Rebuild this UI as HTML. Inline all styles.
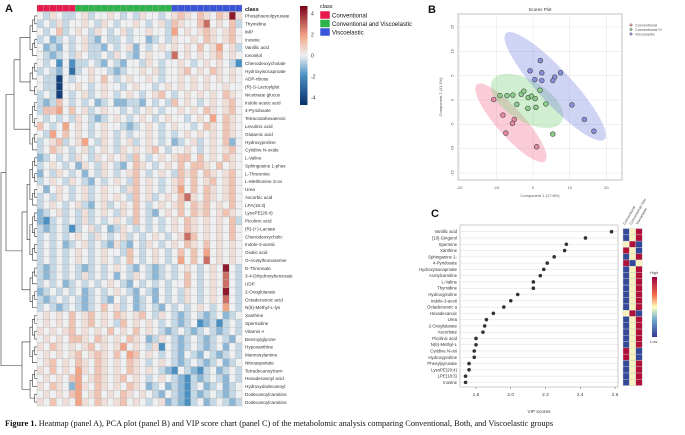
<!DOCTYPE html>
<html><head><meta charset="utf-8"><style>
html,body{margin:0;padding:0;background:#fff;}
svg{display:block;font-family:"Liberation Sans",sans-serif;}
</style></head><body>
<svg id="fig" width="685" height="435" viewBox="0 0 685 435" xmlns="http://www.w3.org/2000/svg">
<defs>
<linearGradient id="hmgrad" x1="0" y1="0" x2="0" y2="1">
<stop offset="0" stop-color="#7a0019"/><stop offset="0.3" stop-color="#f2a487"/><stop offset="0.5" stop-color="#eef0f2"/><stop offset="0.7" stop-color="#4a90c2"/><stop offset="1" stop-color="#08306b"/>
</linearGradient>
<linearGradient id="vipgrad" x1="0" y1="0" x2="0" y2="1">
<stop offset="0" stop-color="#9e0142"/><stop offset="0.3" stop-color="#f46d43"/><stop offset="0.5" stop-color="#ffffbf"/><stop offset="0.7" stop-color="#74add1"/><stop offset="1" stop-color="#313695"/>
</linearGradient>
</defs>
<g id="panelA"></g>
<g id="panelB"></g>
<g id="panelC"></g>
<text x="5" y="426" font-family="Liberation Serif,serif" font-size="8.3" fill="#111"><tspan font-weight="bold">Figure 1.</tspan> Heatmap (panel A), PCA plot (panel B) and VIP score chart (panel C) of the metabolomic analysis comparing Conventional, Both, and Viscoelastic groups</text>
</svg>
<script>
// ---------- Heatmap data ----------
const hmRows = ["Phosphoenolpyruvate","Thymidine","IMP","Inosine","Vanillic acid","Ionositol","Chenodeoxycholate","Hydroxyisocaproate","ADP-ribose","(R)-S-Lactoylglut","Nicotinate glucos","Indole acetic acid","4-Pyridoxate","Tetracosahexaenoic","Levulinic acid","Glutamic acid","Hydroxyproline","Cytidine N-oxide","L-Valine","Sphingosine 1-phos","L-Threonine","L-Methionine S-ox","Urea","Ascorbic acid","LPA(18:3)","LysoPE(20:4)","Picolinic acid","(R)-(+)-Lactate","Chenodeoxycholic","Indole-3-acetic","Oxalic acid","O-Acetylhomoserine","D-Threonate","3-4-Dihydroxybenzoate","UDP","2-Oxoglutarate","Octadecanoic acid","N(6)-Methyl-L-lys","Xanthine","Spermidine","Vitamin A","Benzoylglycine","Hypoxanthine","Mannosylamine","Nitroaspartate","Tetradecanoylcarn","Hexadecanoyl acid","Hydroxydodecanoyl","Dodecanoylcarnitine","Dodecanoylcarnitine"];
const hmClassCounts = [6,15,11];
const hmLevels = {A:-4.5,B:-3,C:-2,D:-1.2,E:-0.5,F:0,G:0.5,H:1.2,I:2,J:3,K:4.5};
const hmValues = [
"FEGFEEFGEFFGFEFEGFFEFGHGFHGFHGKG","EFEGEFFGFEGFEFFGFEFGEHGFFHJFGFHE","FEFHEFGFEGFEFGEFFGFFEIFGFGHGFGHF","EFDEFEFGEDFEEFEFFDEFEGFFGFHGFGHF",
"FDEDFEFGEEDFEFGDFEFGFGFGFHFGIFGE","FEDEFEGFEEFEGFEDFGFFEJFGFGFGHFGF","FEFCFCEEFEDFEDFFEGFEFFGFEFGFGFEC","EFEDFBEFGFFEDEFFGFGEFFGHFGFHGFGF",
"FEEAFEFFGFHFEFGFFGFEFFGFGFGFGFGF","FEEAFFGFEFGFFEFGFFEFGFGFGFGFFGFF","EFEAFEFGEFGFEFGFEFGHFEFGFGFGFHGF","EDEHFEFEFDEFDDEEDFEFEHFGFEFGFGHF",
"EHHIFHFGEFGFFEFEFGFEFFGFGFHGFGHF","FEFEFEGFEDEFGFEFGFEFGFFEFGFIFHGF","HFEFIFGFEFGFFEDEFGFEFGFFEFHGFHGF","FEIFHFGFEFGFEFEFFGFEFEFGFGFGFHGF",
"EFGHEFGIFEGFEFGEFGFEFDEFGEFGFHDF","EFHGFEFGEFGFEGFGFGHFEFFGFEFGFGHF","DEFEFEGFEGFGFGEHFEFGFGHHFHFGFHGF","EFGFEFDGFEGFEDFHGFEFGFHFHHGFHFGF",
"DFEGFEFDFEGFEFGHFEFGFEHGHFHGFGHF","EFGFEGFEDFEFGFEHFGFEFGHFHFGHFGHF","FDFGFEFGEFGFFEGHFGFEFGIFHFHGFGHF","EFEGFEFGEFGFGFEHFGEFGFHJGFHGFGHF",
"EFGFEFGEDFGEFGFHFEFGFGHFHGHFGFHF","DEFGEFEGEFGFEGFHFEDFGFHFHGHFGHGF","DCEFEFEGEFEFGFEHFEFEFGFHGFGFGFHE","EDEFECEFGEFDEGFEFEFEFGFHGFGFGFHF",
"EFEFEFGFEGFEFGEFEFGFEFGJHFGFGFHF","EFEFDEFGEFEDGEDFEGFEFGFHGFHFGFGF","EFEFEFGFEFGFFEHFEFGFEFHFHFIFGFGF","EFEFEFGFEFGFEFHFEFGFEFIFHFJFGFGF",
"EDEFEFEDEFEFGFEDFEDEFEFGFEFGFKFE","EDEFEFEGEFEFDFEGFEDEFEFHFEFGFJFE","EFEFDEFEFEFGFEDFEFEFEFFHFEFGFJFE","DEFEFEFDEFEFGFEDFEDFEFEGFEFGFKFE",
"EDEFEFEDEFEDFEFDEFDFEFEGFEFGFJFE","EFEDEFEDEFHFGEFDEFEDFEFEFGFEFIFE","FGFGFHFGHFGFHGFGHFEGFEDEFEDEFDEF","FGFGFHFGHFGFEHFGFGFEFEDEFCDECEFE",
"GFGFGHFGFGFHFGFHFGFEDEFEDEFEDEFE","FGFGFHHGFHGFGFHGFDEGFEDEFEDEFEDF","GFHGFGFGHFGFGIFGFEGCFEDEFEDEFDFE","FGFGFGHFGHGFHFIHFGFEFEDFEDFEDEFE",
"FGHFGFHGFHGFGFHGFEFGFEDEFEDEFDEF","GFHFGFIGFHGFGFHGFGFEDCFEDCEFDEFE","FGFGFHIFGHGFGHFGFEFGFEDCEDEFEDFE","GFHGFDIGFHGFGFHGFDEFDEDCEFDEFDEF",
"FGFGFHIFGHFGFHGFGFEDFEDCEDEFEDEF","GFHFGFIGFHGFGHFGFEFGDEDCEFDEFEDE"];
const hmClassNames = ["Conventional","Conventional and Viscoelastic","Viscoelastic"];
const hmClassColors = ["#e8194d","#2db34a","#3a55d8"];
const hmBarTicks = [4,2,0,-2,-4];

// ---------- PCA data ----------
const pcaGroups = ["Conventional","Conventional and Viscoelastic","Viscoelastic"];
const pcaRedX = [-10.7,-8.2,-5.1,-5.6,-7.4,1.0];
const pcaRedY = [0.1,-3.1,-4.0,-4.8,-6.8,-9.6];
const pcaGreenX = [-9.0,-7.1,-5.5,-3.2,-2.5,-4.4,-1.3,-0.4,0.6,-1.4,0.8,3.5,1.9,5.4];
const pcaGreenY = [0.9,0.9,1.0,1.2,1.8,-0.9,0.5,0.8,0.3,-1.7,-1.5,-0.8,2.0,-7.0];
const pcaBlueX = [2.0,-0.8,2.4,5.9,7.5,0.5,2.4,5.4,10.6,14.0,16.6];
const pcaBlueY = [8.1,6.0,5.6,4.7,5.6,4.2,4.0,4.0,-1.0,-4.0,-6.4];
const pcaXTicks = [-20,-10,0,10,20];
const pcaYTicks = [15,10,5,0,-5,-10,-15];

// ---------- VIP data ----------
const vipFeatures = ["Vanillic acid","[10]-Gingerol","Spermine","Xanthine","Sphinganine 1-","4-Pyridoxate","Hydroxyisocaproate","Acetylcarnitine","L-Valine","Thymidine","Hydroxyproline","Indole-3-aceti","Octadecanoic a","Hexadecanoic","Urea","2-Oxoglutarate","Ascorbate","Picolinic acid","N(6)-Methyl-L","Cytidine N-oxi","Hydroxyproline","Phenylpyruvate","LysoPE(20:4)","LPE(18:3)","Inosine"];
const vipScores = [2.58,2.43,2.32,2.31,2.25,2.21,2.19,2.17,2.13,2.13,2.04,2.00,1.96,1.90,1.86,1.85,1.84,1.80,1.80,1.79,1.79,1.76,1.76,1.74,1.74];
const vipConv = [-1,-1,0,1,-1,1,-1,-1,-1,-1,-1,-1,-1,0,-1,-1,-1,-1,-1,1,1,-1,-1,-1,-1];
const vipBoth = [0,0,1,0,0,-1,0,0,0,0,0,0,0,1,0,0,0,0,0,0,0,0,0,0,0];
const vipVisc = [1,1,-1,-1,1,0,1,1,1,1,1,1,1,-1,1,1,1,1,1,-1,-1,1,1,1,1];
const vipXTicks = [1.8,2.0,2.2,2.4,2.6];

const NS="http://www.w3.org/2000/svg";
function mk(parent,tag,attrs,text){const e=document.createElementNS(NS,tag);for(const k in attrs)e.setAttribute(k,attrs[k]);if(text!==undefined)e.textContent=text;parent.appendChild(e);return e;}

// ===== Panel A =====
(function(){
const g=document.getElementById('panelA');
const x0=37,x1=242,yTop=12,yBot=406;
const nC=hmClassCounts.reduce((a,b)=>a+b,0);
const cw=(x1-x0)/nC, rh=(yBot-yTop)/hmRows.length;
function col(v){
  const stops=[[-5,[8,48,107]],[-2,[74,144,194]],[0,[238,240,242]],[2,[242,164,135]],[5,[122,0,25]]];
  v=Math.max(-5,Math.min(5,v));
  for(let i=0;i<stops.length-1;i++){const a=stops[i],b=stops[i+1];if(v<=b[0]){const t=(v-a[0])/(b[0]-a[0]);const c=a[1].map((q,j)=>Math.round(q+(b[1][j]-q)*t));return `rgb(${c})`;}}
}
let t=mk(g,'text',{x:5,y:12,'font-size':11,'font-weight':'bold',fill:'#111'},'A');

// class bar
let ci=0;
hmClassCounts.forEach((n,k)=>{for(let i=0;i<n;i++){const r=mk(g,'rect',{x:x0+(ci)*cw,y:5,width:cw,height:6.5,fill:hmClassColors[k],stroke:'#aaa','stroke-width':0.3});
ci++;}});
t=mk(g,'text',{x:x1+3,y:11,'font-size':5.5,'font-weight':'bold',fill:'#111'},'class');

hmValues.forEach((row,ri)=>{
  for(let c=0;c<nC;c++){
    const ch=row[c]||'F';
    const r=mk(g,'rect',{x:x0+c*cw,y:yTop+ri*rh,width:cw,height:rh,fill:col(hmLevels[ch]),stroke:'#b8b8b8','stroke-width':0.35});
    
    
  }
  const l=mk(g,'text',{x:x1+3,y:yTop+ri*rh+rh*0.72,'font-size':4.6,fill:'#333'},hmRows[ri]);
  
  
});
// dendrogram
const dg=mk(g,'g',{stroke:'#333','stroke-width':0.6,fill:'none'});

const clusters=[[0,5],[6,10],[11,17],[18,31],[32,37],[38,44],[45,49]];
function build(lo,hi,depth,maxd){ // returns {y,x}
  if(lo===hi) return {y:yTop+lo*rh+rh/2,x:x0};
  const mid=Math.floor((lo+hi)/2);
  const a=build(lo,mid,depth+1,maxd), b=build(mid+1,hi,depth+1,maxd);
  const x=Math.min(a.x,b.x)-2.2-(hi-lo)*0.05;
  mk(dg,'path',{d:`M${a.x},${a.y}H${x}V${b.y}H${b.x}`});
  return {y:(a.y+b.y)/2,x:x};
}
const tops=clusters.map(c=>build(c[0],c[1],0));
function join(list,xs){
  // join sequential pairs with given x positions
  const a=list[0],b=list[1];
  mk(dg,'path',{d:`M${a.x},${a.y}H${xs}V${b.y}H${b.x}`});
  return {x:xs,y:(a.y+b.y)/2};
}
const j01=join([tops[0],tops[1]],20), j012=join([j01,tops[2]],14);
const j34=join([tops[3],tops[4]],22), jU=join([j012,j34],6);
const j56=join([tops[5],tops[6]],22);
join([jU,j56],1);
// colorbar
const cb=mk(g,'rect',{x:300,y:6,width:7.5,height:99,fill:'url(#hmgrad)'});

hmBarTicks.forEach(v=>{const y=55.5-v*10.5;const tx=mk(g,'text',{x:311,y:y+2,'font-size':5,fill:'#333'},String(v).replace('-','-'));
});
// legend
t=mk(g,'text',{x:320,y:8,'font-size':5.5,fill:'#111'},'class');

hmClassNames.forEach((n,k)=>{
  const r=mk(g,'rect',{x:320,y:11+k*8.5,width:10,height:8,fill:hmClassColors[k],stroke:'#fff','stroke-width':0.5});
  
  const tt=mk(g,'text',{x:332,y:17.5+k*8.5,'font-size':6,fill:'#111'},n);
  
});
})();

// ===== Panel B =====
(function(){
const g=document.getElementById('panelB');
const L=458,R=622,T=14,B=180;
const X=v=>533+v*3.67, Y=v=>100-v*4.87;
let t=mk(g,'text',{x:428,y:13,'font-size':11,'font-weight':'bold',fill:'#111'},'B');

t=mk(g,'text',{x:(L+R)/2,y:11,'font-size':4.5,'text-anchor':'middle',fill:'#333'},'Scores Plot');

const bg=mk(g,'rect',{x:L,y:T,width:R-L,height:B-T,fill:'#fff',stroke:'#999','stroke-width':0.6});

pcaXTicks.forEach(v=>{mk(g,'line',{x1:X(v),x2:X(v),y1:T,y2:B,stroke:'#e2e2e2','stroke-width':0.5});
 const tx=mk(g,'text',{x:X(v),y:B+9,'font-size':4,'text-anchor':'middle',fill:'#555'},v);
 });
pcaYTicks.forEach(v=>{mk(g,'line',{x1:L,x2:R,y1:Y(v),y2:Y(v),stroke:'#e2e2e2','stroke-width':0.5});
 const tx=mk(g,'text',{x:L-6,y:Y(v)+1.5,'font-size':4,'text-anchor':'middle',fill:'#555',transform:`rotate(-90 ${L-6} ${Y(v)})`},v);
 });
t=mk(g,'text',{x:(L+R)/2,y:B+17,'font-size':4,'text-anchor':'middle',fill:'#555'},'Component 1 (17.8%)');

t=mk(g,'text',{x:442,y:(T+B)/2,'font-size':4,'text-anchor':'middle',fill:'#555',transform:`rotate(-90 442 ${(T+B)/2})`},'Component 2 (11.1%)');

const groups=[[pcaRedX,pcaRedY,'rgba(240,110,140,0.35)','#e58aa0'],[pcaGreenX,pcaGreenY,'rgba(120,210,120,0.35)','#8ccf8c'],[pcaBlueX,pcaBlueY,'rgba(110,120,220,0.32)','#8890dd']];
groups.forEach((gr,k)=>{
  const px=gr[0].map(X), py=gr[1].map(Y), n=px.length;
  const mx=px.reduce((a,b)=>a+b)/n, my=py.reduce((a,b)=>a+b)/n;
  let sxx=0,syy=0,sxy=0;for(let i=0;i<n;i++){sxx+=(px[i]-mx)**2;syy+=(py[i]-my)**2;sxy+=(px[i]-mx)*(py[i]-my);}
  sxx/=(n-1);syy/=(n-1);sxy/=(n-1);
  const tr=sxx+syy, det=sxx*syy-sxy*sxy, d=Math.sqrt(tr*tr/4-det);
  const l1=tr/2+d,l2=Math.max(tr/2-d,0.01);
  const ang=Math.atan2(l1-sxx,sxy)*180/Math.PI;
  const e=mk(g,'ellipse',{cx:mx,cy:my,rx:Math.sqrt(l1*5.991),ry:Math.sqrt(l2*5.991),fill:gr[2],transform:`rotate(${ang} ${mx} ${my})`});
  
});
groups.forEach((gr,k)=>{
  gr[0].forEach((v,i)=>{const c=mk(g,'circle',{cx:X(v),cy:Y(gr[1][i]),r:2.4,fill:gr[3],stroke:'#444','stroke-width':0.6});
  });
  const lc=mk(g,'circle',{cx:631,cy:25+k*4.5,r:1.3,fill:gr[3],stroke:'#666','stroke-width':0.4});
  
  const lt=mk(g,'text',{x:635,y:26.5+k*4.5,'font-size':3.8,fill:'#555'},pcaGroups[k].replace('Conventional and Viscoelastic','Conventional+V'));
  
});
})();

// ===== Panel C =====
(function(){
const g=document.getElementById('panelC');
const L=460,R=618,T=225,B=387;
const X=v=>476+(v-1.8)*173.75, Y=i=>231.7+i*6.28;
let t=mk(g,'text',{x:431,y:217,'font-size':11,'font-weight':'bold',fill:'#111'},'C');

const bg=mk(g,'rect',{x:L,y:T,width:R-L,height:B-T,fill:'#fff',stroke:'#aaa','stroke-width':0.6});

vipFeatures.forEach((f,i)=>{
  mk(g,'line',{x1:L,x2:R,y1:Y(i),y2:Y(i),stroke:'#dcdcdc','stroke-width':0.5});
  const tx=mk(g,'text',{x:L-3,y:Y(i)+1.5,'font-size':4.3,'text-anchor':'end',fill:'#333'},f);
  
  const c=mk(g,'circle',{cx:X(vipScores[i]),cy:Y(i),r:1.8,fill:'#333'});
  
});
vipXTicks.forEach(v=>{mk(g,'line',{x1:X(v),x2:X(v),y1:B,y2:B+2,stroke:'#666','stroke-width':0.5});
  const tx=mk(g,'text',{x:X(v),y:B+9,'font-size':4.8,'text-anchor':'middle',fill:'#444'},v.toFixed(1));
  });
t=mk(g,'text',{x:(L+R)/2,y:413,'font-size':4.8,'text-anchor':'middle',fill:'#444'},'VIP scores');

const cols=[vipConv,vipBoth,vipVisc];
const cmap={'-1':'#34499a','0':'#f8f1c0','1':'#b0103a'};
const hdr=['Conventional','Conventional+Visc','Viscoelastic'];
cols.forEach((arr,k)=>{
  const cx=623+k*6.4;
  arr.forEach((v,i)=>{const r=mk(g,'rect',{x:cx,y:Y(i)-3.14,width:6.4,height:6.28,fill:cmap[String(v)],stroke:'#ccc','stroke-width':0.4});
  });
  const h=mk(g,'text',{x:cx+2,y:225,'font-size':3.6,fill:'#444',transform:`rotate(-60 ${cx+2} 225)`},hdr[k]);
  
});
const cb=mk(g,'rect',{x:652,y:277,width:5,height:60,fill:'url(#vipgrad)'});

t=mk(g,'text',{x:650,y:274,'font-size':4,fill:'#444'},'High');
t=mk(g,'text',{x:650,y:343,'font-size':4,fill:'#444'},'Low');
})();
</script>
</body></html>
